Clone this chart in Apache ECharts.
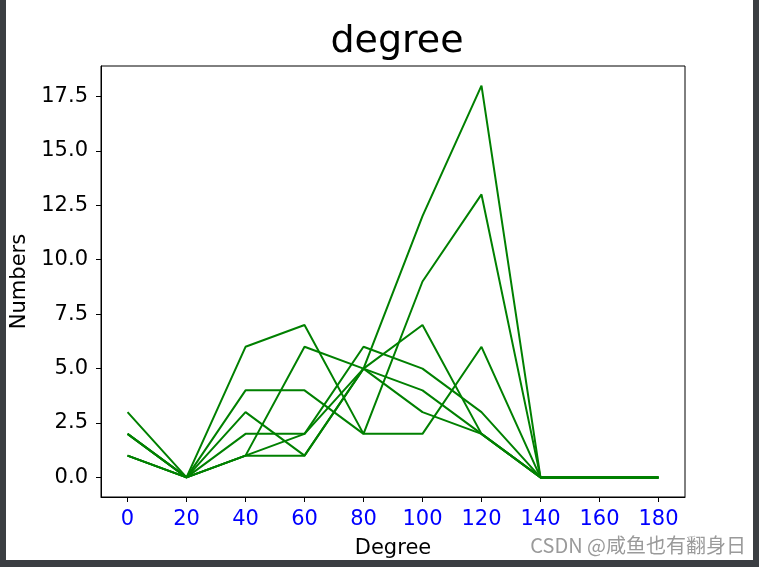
<!DOCTYPE html>
<html>

<head>
    <meta charset="utf-8">
    <script src="https://cdn.jsdelivr.net/npm/echarts@6/dist/echarts.min.js"></script>
    <style>
        html, body { margin: 0; padding: 0; background: #fff; }
        #main { width: 759px; height: 567px; }
    </style>
</head>

<body>
    <div id="main"></div>
    <script type="text/javascript">
        // x positions (degree bins) and tick labels
        var degrees = [0, 20, 40, 60, 80, 100, 120, 140, 160, 180];
        var xTicks = [0, 20, 40, 60, 80, 100, 120, 140, 160, 180];
        var yTicks = [0, 2.5, 5, 7.5, 10, 12.5, 15, 17.5];

        // one array per curve, all drawn in the same green
        var run1 = [2, 0, 6, 7, 2, 9, 13, 0, 0, 0];
        var run2 = [1, 0, 4, 4, 2, 2, 6, 0, 0, 0];
        var run3 = [2, 0, 1, 6, 5, 4, 2, 0, 0, 0];
        var run4 = [1, 0, 2, 2, 6, 5, 3, 0, 0, 0];
        var run5 = [3, 0, 1, 2, 5, 12, 18, 0, 0, 0];
        var run6 = [2, 0, 3, 1, 5, 7, 2, 0, 0, 0];
        var run7 = [1, 0, 1, 1, 5, 3, 2, 0, 0, 0];
        var runs = [run1, run2, run3, run4, run5, run6, run7];

        var font = 'DejaVu Sans';
        var dark = '#3b3e42';

        function toPairs(vals) {
            var out = [];
            for (var i = 0; i < vals.length; i++) {
                out.push([degrees[i], vals[i]]);
            }
            return out;
        }

        var series = [];
        for (var k = 0; k < runs.length; k++) {
            series.push({
                type: 'line',
                data: toPairs(runs[k]),
                showSymbol: false,
                silent: true,
                lineStyle: { color: '#008000', width: 2 },
                z: 3
            });
        }

        var chart = echarts.init(document.getElementById('main'));
        var option = {
            animation: false,
            backgroundColor: '#ffffff',
            title: {
                text: 'degree',
                left: 392,
                top: 18,
                textAlign: 'center',
                textStyle: { fontFamily: font, fontSize: 38, fontWeight: 'normal', color: '#000' }
            },
            grid: {
                left: 101,
                right: 74,
                top: 66,
                bottom: 70,
                containLabel: false,
                outerBoundsMode: 'none',
                show: true,
                borderColor: '#000',
                borderWidth: 1,
                backgroundColor: 'transparent'
            },
            xAxis: {
                type: 'value',
                min: -9,
                max: 189,
                name: 'Degree',
                nameLocation: 'middle',
                nameGap: 41,
                nameTextStyle: { fontFamily: font, fontSize: 21, color: '#000' },
                axisLine: { show: true, onZero: false, lineStyle: { color: '#000', width: 1 } },
                axisTick: { show: true, length: 5, lineStyle: { color: '#000' }, customValues: xTicks },
                axisLabel: {
                    customValues: xTicks,
                    margin: 12,
                    fontFamily: font,
                    fontSize: 21,
                    color: '#0000ff'
                },
                splitLine: { show: false }
            },
            yAxis: {
                type: 'value',
                min: -0.9,
                max: 18.9,
                name: 'Numbers',
                nameLocation: 'middle',
                nameGap: 67,
                nameTextStyle: { fontFamily: font, fontSize: 21, color: '#000' },
                axisLine: { show: true, onZero: false, lineStyle: { color: '#000', width: 1 } },
                axisTick: { show: true, length: 5, lineStyle: { color: '#000' }, customValues: yTicks },
                axisLabel: {
                    customValues: yTicks,
                    margin: 13,
                    fontFamily: font,
                    fontSize: 21,
                    color: '#000',
                    formatter: function (v) { return Number(v).toFixed(1); }
                },
                splitLine: { show: false }
            },
            graphic: [
                // dark frame of the screenshot
                { type: 'rect', left: 0, top: 0, shape: { width: 6, height: 567 }, style: { fill: dark }, z: 10 },
                { type: 'rect', left: 753, top: 0, shape: { width: 6, height: 567 }, style: { fill: dark }, z: 10 },
                { type: 'rect', left: 0, top: 560, shape: { width: 759, height: 7 }, style: { fill: dark }, z: 10 },
                {
                    type: 'text',
                    right: 13,
                    top: 535,
                    style: {
                        text: 'CSDN @咸鱼也有翻身日',
                        fill: '#9a9a9a',
                        font: '20px "Noto Sans CJK SC", sans-serif'
                    },
                    z: 11
                }
            ],
            series: series
        };
        chart.setOption(option);
    </script>
</body>

</html>
